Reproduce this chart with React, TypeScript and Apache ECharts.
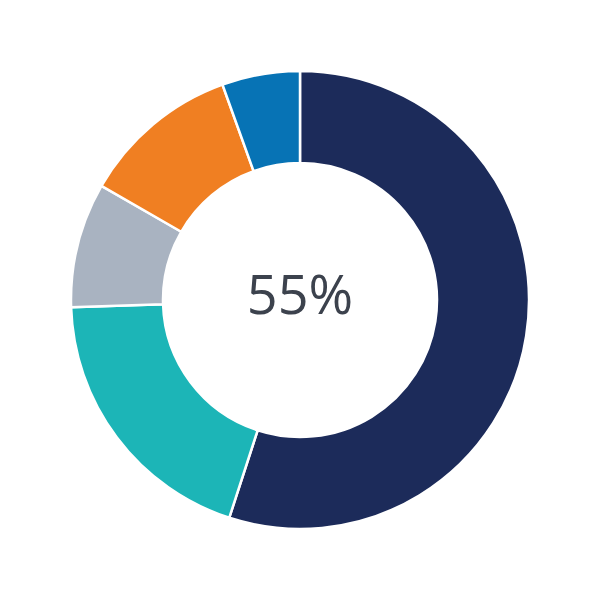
import React, { useEffect, useRef } from "react";
import * as echarts from "echarts";

const categories = ["A", "B", "C", "D", "E"];
const values = [55, 19.5, 8.8, 11.2, 5.5];
const colors = ["#1c2b5a", "#1cb5b7", "#a9b3c1", "#f07f22", "#0773b5"];
const centerLabel = "55%";

export default function App() {
  const ref = useRef<HTMLDivElement>(null);
  useEffect(() => {
    if (!ref.current) return;
    const chart = echarts.init(ref.current, undefined, { renderer: "svg" });
    chart.setOption({
      animation: false,
      backgroundColor: "#ffffff",
      graphic: [
        {
          type: "text",
          x: 300,
          y: 293,
          style: {
            text: centerLabel,
            align: "center",
            verticalAlign: "middle",
            fontFamily: "Open Sans",
            fontSize: 54,
            fontWeight: 400,
            fill: "#3c424d",
          },
        },
      ],
      series: [
        {
          type: "pie",
          center: ["50%", "50%"],
          radius: [137, 229],
          startAngle: 90,
          clockwise: true,
          label: { show: false },
          labelLine: { show: false },
          emphasis: { disabled: true },
          itemStyle: { borderColor: "#ffffff", borderWidth: 2.5 },
          data: categories.map((c, i) => ({
            name: c,
            value: values[i],
            itemStyle: { color: colors[i] },
          })),
        },
      ],
    });
    return () => chart.dispose();
  }, []);
  return (
    <div
      ref={ref}
      style={{ position: "fixed", left: 0, top: 0, width: 600, height: 600 }}
    />
  );
}
